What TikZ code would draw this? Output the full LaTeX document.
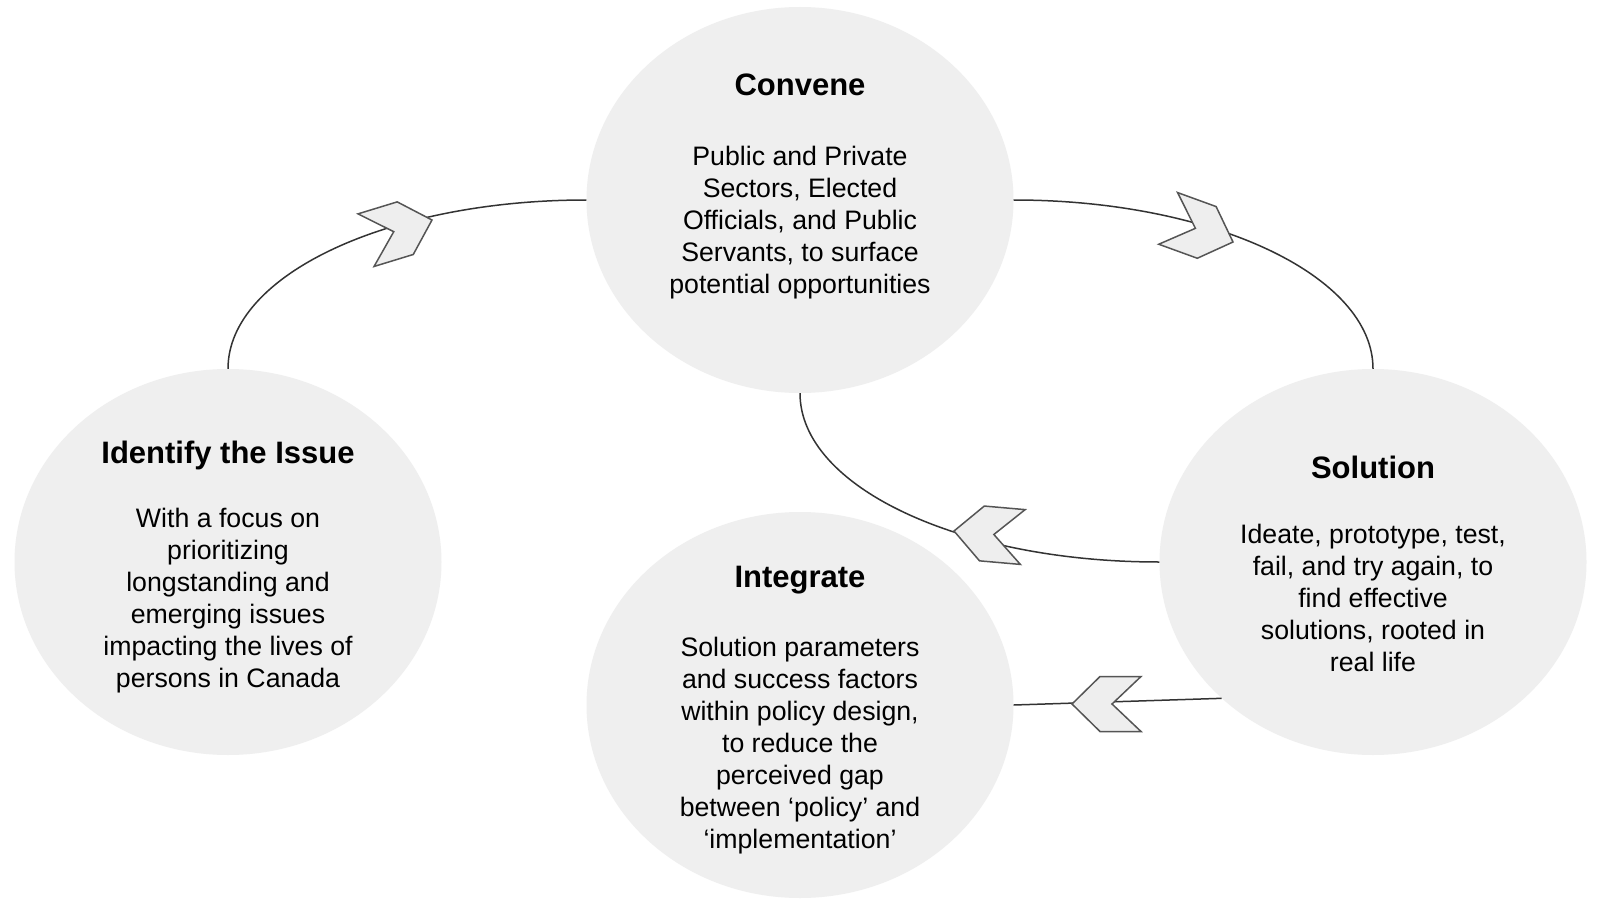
\documentclass[tikz,border=0pt]{standalone}
\usepackage{fontspec}
\setmainfont{Liberation Sans}
\usetikzlibrary{shapes.geometric}
\definecolor{bubblegray}{HTML}{EFEFEF}
\definecolor{linec}{HTML}{333333}
\definecolor{chevfill}{HTML}{EEEEEE}
\definecolor{chevline}{HTML}{555555}
\tikzset{
  chevron/.pic={\draw[fill=chevfill, draw=chevline, line width=1.5pt, line join=miter]
    (0,0) -- (-28,27.5) -- (-69,27.5) -- (-40,0) -- (-69,-27.5) -- (-28,-27.5) -- cycle;}
}
\begin{document}
\begin{tikzpicture}[x=1pt,y=1pt,
  bubble/.style={ellipse, fill=bubblegray, draw=none, minimum width=427pt, minimum height=386pt, inner sep=0pt},
  ttl/.style={font=\fontsize{31}{37}\selectfont\bfseries, anchor=base},
  body/.style={font=\fontsize{26.7}{32}\selectfont, align=center, anchor=center},
  conn/.style={draw=linec, line width=1.5pt}
]
\fill[white] (0,0) rectangle (1600,-904);
\useasboundingbox (0,0) rectangle (1600,-904);

\node[bubble] (conv)  at (800,-200) {};
\node[bubble] (iden)  at (228,-562) {};
\node[bubble] (sol)   at (1373,-562) {};
\node[bubble] (integ) at (800,-705) {};

\node[ttl] (convT) at (800,-96) {Convene};
\node[body] (convB) at (800,-222.5) {Public and Private\\Sectors, Elected\\Officials, and Public\\Servants, to surface\\potential opportunities};

\node[ttl] (idenT) at (228,-463) {Identify the Issue};
\node[body] (idenB) at (228,-601) {With a focus on\\prioritizing\\longstanding and\\emerging issues\\impacting the lives of\\persons in Canada};

\node[ttl] (solT) at (1373,-478) {Solution};
\node[body] (solB) at (1373,-597.5) {Ideate, prototype, test,\\fail, and try again, to\\find effective\\solutions, rooted in\\real life};

\node[ttl] (integT) at (800,-587) {Integrate};
\node[body] (integB) at (800,-746) {Solution parameters\\and success factors\\within policy design,\\to reduce the\\perceived gap\\between ‘policy’ and\\‘implementation’};

\draw[conn] (iden.north) .. controls +(0,94) and +(-198,0) .. (conv.west);
\draw[conn] (conv.east) .. controls +(199,0) and +(0,93) .. (sol.north);
\draw[conn] (conv.south) .. controls +(0,-94) and +(-199,0) .. (sol.west);
\draw[conn] (sol.222) -- (integ.east);

\pic[rotate=17] at (432,-220) {chevron};
\pic[rotate=-20] at (1233,-242) {chevron};
\pic[rotate=175] at (954,-531) {chevron};
\pic[rotate=180] at (1072,-704) {chevron};
\end{tikzpicture}
\end{document}
